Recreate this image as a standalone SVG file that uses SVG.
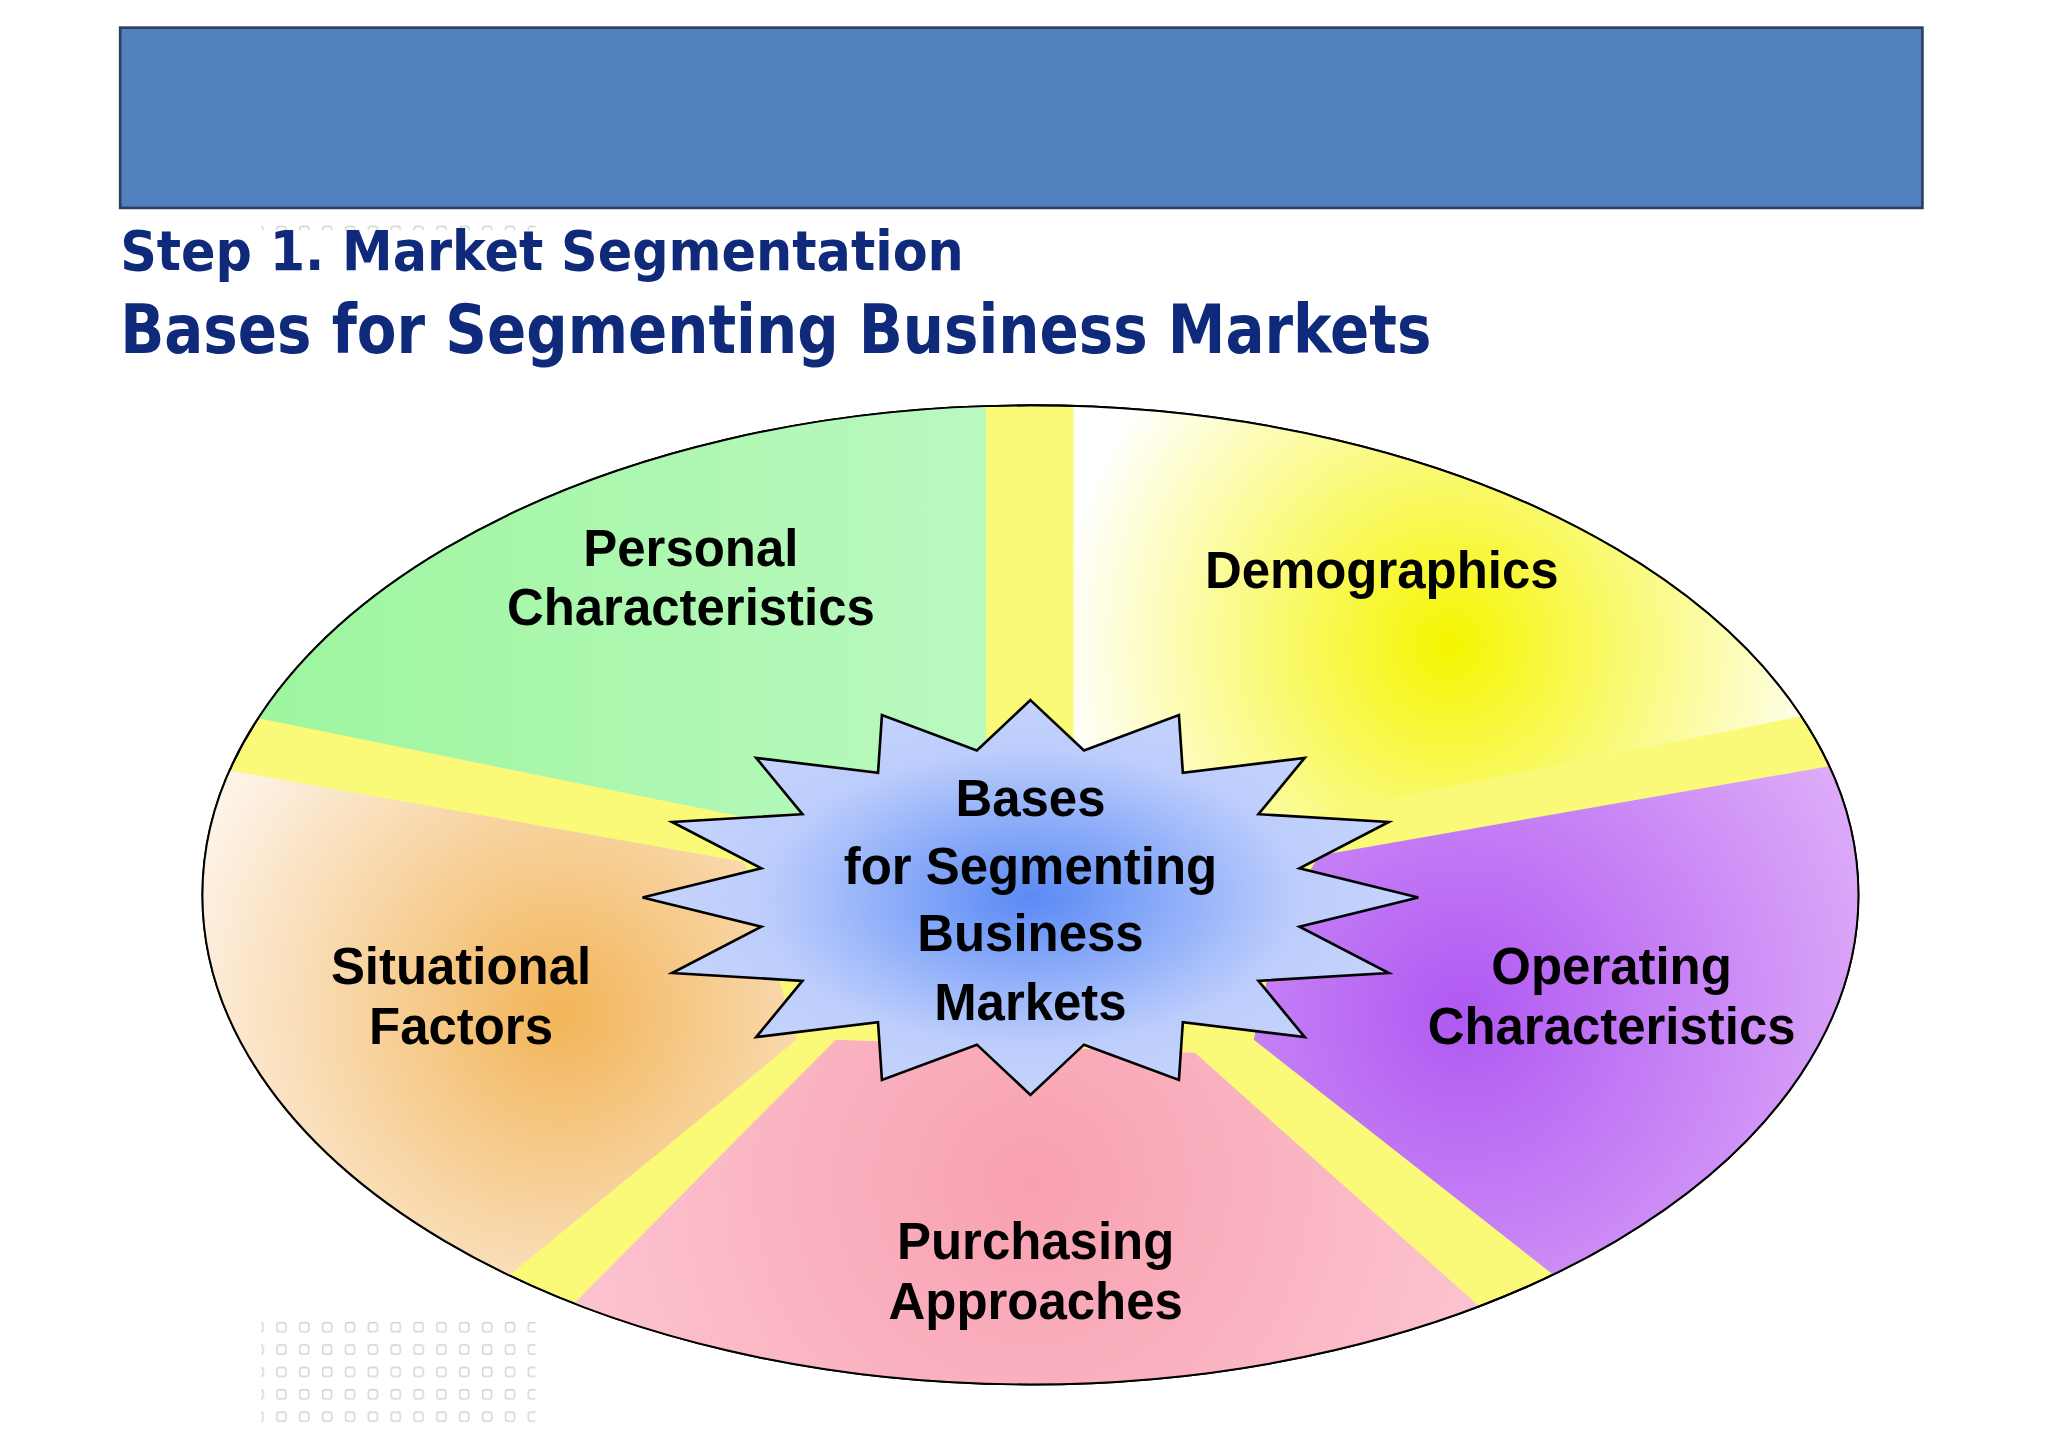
<svg xmlns="http://www.w3.org/2000/svg" width="2048" height="1448" viewBox="0 0 2048 1448">
<style>
.t{font-family:"Liberation Sans",Arial,sans-serif;font-weight:bold;font-size:39px;fill:#000;text-anchor:middle}
.h{font-family:"DejaVu Sans","Open Sans",sans-serif;font-weight:bold;fill:#0f2a7a}
</style>
<defs>
<pattern id="dots" width="17.5" height="17" patternUnits="userSpaceOnUse"><rect x="2" y="2" width="7" height="7" rx="2" fill="none" stroke="#d0d0d0" stroke-width="1"/></pattern>
<linearGradient id="gG" x1="0" y1="0" x2="1" y2="0"><stop offset="0" stop-color="#98f598"/><stop offset="1" stop-color="#baf9c0"/></linearGradient>
<radialGradient id="gY" cx="1110" cy="490" r="300" gradientUnits="userSpaceOnUse"><stop offset="0" stop-color="#f5f500"/><stop offset="1" stop-color="#ffffff"/></radialGradient>
<radialGradient id="gP" cx="1120" cy="770" r="330" gradientUnits="userSpaceOnUse"><stop offset="0" stop-color="#b058f2"/><stop offset="1" stop-color="#dcaaf8"/></radialGradient>
<radialGradient id="gO" cx="430" cy="770" r="300" gradientUnits="userSpaceOnUse"><stop offset="0" stop-color="#f2b458"/><stop offset="1" stop-color="#fdf2e6"/></radialGradient>
<radialGradient id="gK" cx="790" cy="900" r="360" gradientUnits="userSpaceOnUse"><stop offset="0" stop-color="#f8a0b0"/><stop offset="1" stop-color="#fcc4d0"/></radialGradient>
<radialGradient id="gS" cx="789" cy="682" r="290" gradientTransform="translate(789 682) scale(1 0.55) translate(-789 -682)" gradientUnits="userSpaceOnUse"><stop offset="0" stop-color="#5a8af5"/><stop offset="0.7" stop-color="#bccdfc"/><stop offset="1" stop-color="#c6d4fc"/></radialGradient>
<clipPath id="ell"><ellipse cx="789" cy="680" rx="634" ry="372"/></clipPath>
</defs>
<rect width="2048" height="1448" fill="#fff"/>
<g transform="scale(1.306,1.316)">
<rect x="92" y="21" width="1380" height="137" fill="#5080be" stroke="#2b3f5e" stroke-width="2"/>
<rect x="200" y="163" width="210" height="12" fill="url(#dots)"/>
<rect x="200" y="1004" width="210" height="85" fill="url(#dots)"/>
<text class="h" x="92" y="205" font-size="42" textLength="646" lengthAdjust="spacingAndGlyphs">Step 1.  Market Segmentation</text>
<text class="h" x="92" y="268" font-size="52" textLength="1004" lengthAdjust="spacingAndGlyphs">Bases for Segmenting Business Markets</text>
<g id="wheel">
<ellipse cx="789" cy="680" rx="634" ry="372" fill="#fafa78" stroke="#000" stroke-width="1.5"/>
<g clip-path="url(#ell)">
<polygon id="personal" points="100,290 755,290 755,630 590,625 100,526" fill="url(#gG)"/>
<polygon id="demographics" points="822,290 1500,290 1500,520 1000,620 822,620" fill="url(#gY)"/>
<polygon id="operating" points="1010,650 1500,565 1500,1100 1358,1100 960,790 980,700" fill="url(#gP)"/>
<polygon id="purchasing" points="640,790 915,800 1254,1100 330,1100" fill="url(#gK)"/>
<polygon id="situational" points="100,572 570,655 610,790 395,965 229,1100 100,1100" fill="url(#gO)"/>
</g>
<ellipse cx="789" cy="680" rx="634" ry="372" fill="none" stroke="#000" stroke-width="1.5"/>
</g>
<g id="center">
<polygon points="789,532 830,570.2 902.7,543.4 905.7,587.2 999,575.9 963.6,618.7 1063.4,624.6 995,659.8 1086,682 995,704.2 1063.4,739.4 963.6,745.3 999,788.1 905.7,776.8 902.7,820.6 830,793.8 789,832 748,793.8 675.3,820.6 672.3,776.8 579,788.1 614.4,745.3 514.6,739.4 583,704.2 492,682 583,659.8 514.6,624.6 614.4,618.7 579,575.9 672.3,587.2 675.3,543.4 748,570.2" fill="url(#gS)" stroke="#000" stroke-width="2"/>
<text class="t" x="789" y="620">Bases</text>
<text class="t" x="789" y="672">for Segmenting</text>
<text class="t" x="789" y="723">Business</text>
<text class="t" x="789" y="775">Markets</text>
</g>
<text class="t" x="529" y="430">Personal</text>
<text class="t" x="529" y="475">Characteristics</text>
<text class="t" x="1058" y="447">Demographics</text>
<text class="t" x="353" y="748">Situational</text>
<text class="t" x="353" y="793">Factors</text>
<text class="t" x="1234" y="748">Operating</text>
<text class="t" x="1234" y="793">Characteristics</text>
<text class="t" x="793" y="957">Purchasing</text>
<text class="t" x="793" y="1002">Approaches</text>
</g>
</svg>
